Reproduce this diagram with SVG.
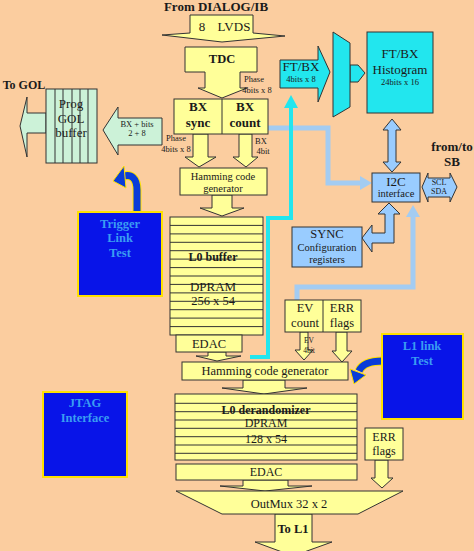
<svg xmlns="http://www.w3.org/2000/svg" width="474" height="551" viewBox="0 0 474 551">
<defs>
<style>
.y{fill:#FFFF99;stroke:#333;stroke-width:1}
.g{fill:#CCF2D8;stroke:#333;stroke-width:1}
.c{fill:#22E6EE;stroke:#333;stroke-width:1}
.lb{fill:#99CCFF;stroke:#333;stroke-width:1}
.bb{fill:#0814E8;stroke:#FFE100;stroke-width:2}
.t{font-family:"Liberation Serif","Times New Roman",serif;fill:#1a1a1a;text-anchor:middle}
.b{font-weight:bold}
.bt{fill:#3A9CF2}
.ln{fill:none;stroke:#333;stroke-width:1}
.sky{fill:none;stroke:#A3CCF2;stroke-width:5}
.cy{fill:none;stroke:#22E6EE;stroke-width:4}
.bc{fill:none;stroke:#0A3CD8;stroke-width:7}
.bco{fill:none;stroke:#FFE100;stroke-width:9}
.bh{fill:#0A3CD8;stroke:#FFE100;stroke-width:1}
</style>
<marker id="skyhead" markerUnits="userSpaceOnUse" markerWidth="12" markerHeight="14" viewBox="0 0 12 14" refX="0" refY="7" orient="auto">
<path d="M0,0 L12,7 L0,14 z" fill="#A3CCF2"/>
</marker>
<marker id="cyhead" markerUnits="userSpaceOnUse" markerWidth="13" markerHeight="14" viewBox="0 0 13 14" refX="0" refY="7" orient="auto">
<path d="M0,0 L13,7 L0,14 z" fill="#22E6EE"/>
</marker>
</defs>
<rect x="0" y="0" width="474" height="551" fill="#FBCD9F"/>

<g id="connectors">
<path class="sky" d="M268,128 H328 V183 H360" marker-end="url(#skyhead)"/>
<path class="sky" d="M297,300 V287 H413 V217" marker-end="url(#skyhead)"/>
<path class="cy" d="M250,357 H268 V218 H291 V108" marker-end="url(#cyhead)"/>
<polygon class="y" points="193,134 208,134 208,157 216,157 199,167 185,157 193,157"/>
<polygon class="y" points="239,134 252,134 252,157 258,157 246,167 233,157 239,157"/>
<polygon class="y" points="212,195 232,195 232,208 244,208 222,216 200,208 212,208"/>
<polygon class="y" points="208,352 226,352 226,356 241,356 217,361 196,356 208,356"/>
<polygon class="y" points="243,380 285,380 285,388 307,388 264,394 222,388 243,388"/>
<polygon class="y" points="243,480 288,480 288,486 312,486 265,491 220,486 243,486"/>
<polygon class="y" points="300,332 308,332 308,350 313,350 304,360 295,350 300,350"/>
<polygon class="y" points="336,332 347,332 347,351 352,351 342,362 332,351 336,351"/>
<polygon class="y" points="375,460 388,460 388,478 393,478 382,488 371,478 375,478"/>
<polygon class="c" points="350,65 358,65 365,73 358,82 350,82"/>
<polygon class="lb" points="392,119 401,130 396,130 396,162 401,162 392,172 383,162 388,162 388,130 383,130"/>
<polygon class="lb" points="389,203 400,214 394,214 394,243 372,243 372,252 362,238 372,225 372,233 385,233 385,214 378,214"/>
<polygon class="lb" points="422,187 428,173 428,178 450,178 450,173 457,187 450,202 450,197 428,197 428,202"/>
<text class="t" x="439" y="185" font-size="8">SCL</text>
<text class="t" x="439" y="194" font-size="8">SDA</text>
<polygon class="g" points="46,113 27,113 27,97 20,126 27,157 27,133 46,133"/>
<polygon class="g" points="162,118 118,118 118,107 103,130 118,155 118,145 162,145"/>
<text class="t" x="137" y="127" font-size="8.5">BX + bits</text>
<text class="t" x="137" y="136" font-size="8.5">2 + 8</text>
<path class="bco" d="M137,213 V190 C137,178 131,174 124,176"/>
<path class="bc" d="M137,213 V190 C137,178 131,174 124,176"/>
<polygon class="bh" points="124,166 126,188 113,181"/>
<path class="bco" d="M383,361 C370,361 362,364 359,371"/>
<path class="bc" d="M383,361 C370,361 362,364 359,371"/>
<polygon class="bh" points="350,369 366,375 354,384"/>
<polygon class="y" points="275,514 312,514 312,542 332,542 293,556 255,542 275,542"/>
<text class="t b" x="293" y="533" font-size="12.5">To L1</text>
</g>

<g id="from-dialog">
<text class="t b" x="216" y="11" font-size="13">From DIALOG/IB</text>
</g>

<g id="lvds">
<polygon class="y" points="190,15 253,15 253,33 285,36 222,42 162,35 190,33"/>
<text class="t" x="202" y="31" font-size="13">8</text>
<text class="t" x="234" y="31" font-size="13">LVDS</text>
</g>

<g id="tdc">
<polygon class="y" points="185,47 257,47 257,72 240,72 240,88 247,88 222,98 198,88 205,88 205,72 185,72"/>
<text class="t b" x="222" y="63" font-size="12.5">TDC</text>
<text class="t" x="254" y="82" font-size="8.5">Phase</text>
<text class="t" x="257" y="93" font-size="8.5">4bits x 8</text>
</g>

<g id="bx">
<rect class="y" x="174" y="99" width="94" height="35"/>
<line class="ln" x1="222" y1="99" x2="222" y2="134"/>
<text class="t b" x="198" y="111" font-size="13">BX</text>
<text class="t b" x="198" y="127" font-size="13">sync</text>
<text class="t b" x="245" y="111" font-size="13">BX</text>
<text class="t b" x="245" y="127" font-size="13">count</text>
<text class="t" x="176" y="141" font-size="8.5">Phase</text>
<text class="t" x="176" y="152" font-size="8.5">4bits x 8</text>
<text class="t" x="261" y="144" font-size="8.5">BX</text>
<text class="t" x="263" y="154" font-size="8.5">4bit</text>
</g>

<g id="hamming1">
<rect class="y" x="180" y="168" width="87" height="27"/>
<text class="t" x="223" y="180" font-size="10.5">Hamming code</text>
<text class="t" x="223" y="192" font-size="10.5">generator</text>
</g>

<g id="l0buffer">
<rect class="y" x="170" y="217" width="93" height="118"/>
<path class="ln" d="M170,225.4H263M170,233.9H263M170,242.3H263M170,250.7H263M170,259.1H263M170,267.6H263M170,276H263M170,284.4H263M170,292.9H263M170,301.3H263M170,309.7H263M170,318.1H263M170,326.6H263"/>
<text class="t b" x="213" y="261" font-size="12">L0 buffer</text>
<text class="t" x="213" y="291" font-size="13">DPRAM</text>
<text class="t" x="213" y="305" font-size="12.5">256 x 54</text>
</g>

<g id="edac1">
<rect class="y" x="176" y="335" width="66" height="17"/>
<text class="t" x="209" y="348" font-size="12.5">EDAC</text>
</g>

<g id="hamming2">
<rect class="y" x="182" y="362" width="166" height="18"/>
<text class="t" x="265" y="375" font-size="12.5">Hamming code generator</text>
</g>

<g id="derandomizer">
<rect class="y" x="175" y="394" width="182" height="66"/>
<path class="ln" d="M175,403.3H357M175,411.7H357M175,420H357M175,428.3H357M175,436.7H357M175,445H357M175,453.3H357"/>
<text class="t b" x="266" y="414" font-size="12">L0 derandomizer</text>
<text class="t" x="266" y="427" font-size="12">DPRAM</text>
<text class="t" x="266" y="443" font-size="12">128 x 54</text>
</g>

<g id="edac2">
<rect class="y" x="176" y="464" width="181" height="16"/>
<text class="t" x="266" y="476" font-size="12">EDAC</text>
</g>

<g id="outmux">
<polygon class="y" points="176,491 403,491 358,514 222,514"/>
<text class="t" x="289" y="508" font-size="12.5">OutMux 32 x 2</text>
</g>

<g id="err-flags2">
<rect class="y" x="365" y="428" width="38" height="32"/>
<text class="t" x="384" y="441" font-size="12">ERR</text>
<text class="t" x="384" y="455" font-size="12">flags</text>
</g>

<g id="ev-err">
<rect class="y" x="285" y="300" width="76" height="32"/>
<line class="ln" x1="323" y1="300" x2="323" y2="332"/>
<text class="t" x="305" y="312" font-size="12.5">EV</text>
<text class="t" x="305" y="327" font-size="12.5">count</text>
<text class="t" x="342" y="312" font-size="12.5">ERR</text>
<text class="t" x="342" y="327" font-size="12.5">flags</text>
<text class="t" x="309" y="343" font-size="7.5">EV</text>
<text class="t" x="309" y="353" font-size="7.5">4bit</text>
</g>

<g id="l1link">
<rect class="bb" x="382" y="334" width="81" height="85"/>
<text class="t b bt" x="422" y="350" font-size="12.5">L1 link</text>
<text class="t b bt" x="422" y="365" font-size="12.5">Test</text>
</g>

<g id="trigger">
<rect class="bb" x="78" y="212" width="84" height="84"/>
<text class="t b bt" x="120" y="228" font-size="12.5">Trigger</text>
<text class="t b bt" x="120" y="242" font-size="12.5">Link</text>
<text class="t b bt" x="120" y="257" font-size="12.5">Test</text>
</g>

<g id="jtag">
<rect class="bb" x="43" y="392" width="84" height="85"/>
<text class="t b bt" x="85" y="407" font-size="12.5">JTAG</text>
<text class="t b bt" x="85" y="422" font-size="12.5">Interface</text>
</g>

<g id="gol">
<text class="t b" x="24" y="89" font-size="12">To GOL</text>
<rect class="g" x="46" y="89" width="51" height="74"/>
<path class="ln" d="M55,89V163M63,89V163M72,89V163M80,89V163M88,89V163"/>
<text class="t" x="71" y="108" font-size="13">Prog</text>
<text class="t" x="71" y="123" font-size="13">GOL</text>
<text class="t" x="71" y="137" font-size="13">buffer</text>
</g>

<g id="ftbx">
<polygon class="c" points="280,60 318,60 318,46 330,72 318,102 318,88 280,88"/>
<text class="t" x="301" y="71" font-size="13">FT/BX</text>
<text class="t" x="301" y="82" font-size="8.5">4bits x 8</text>
</g>

<g id="mux">
<polygon class="c" points="333,32 350,43 350,107 333,117"/>
</g>

<g id="histogram">
<rect class="c" x="367" y="32" width="66" height="81"/>
<text class="t" x="400" y="58" font-size="13">FT/BX</text>
<text class="t" x="400" y="74" font-size="13">Histogram</text>
<text class="t" x="400" y="85" font-size="8.5">24bits x 16</text>
</g>

<g id="i2c">
<rect class="lb" x="372" y="173" width="48" height="29"/>
<text class="t" x="396" y="186" font-size="13">I2C</text>
<text class="t" x="396" y="197" font-size="10.5">interface</text>
</g>

<g id="sb">
<text class="t b" x="452" y="151" font-size="13">from/to</text>
<text class="t b" x="452" y="166" font-size="13">SB</text>
</g>

<g id="sync">
<rect class="lb" x="292" y="227" width="70" height="40"/>
<text class="t" x="327" y="238" font-size="12.5">SYNC</text>
<text class="t" x="327" y="251" font-size="10.5">Configuration</text>
<text class="t" x="327" y="263" font-size="10.5">registers</text>
</g>
</svg>
